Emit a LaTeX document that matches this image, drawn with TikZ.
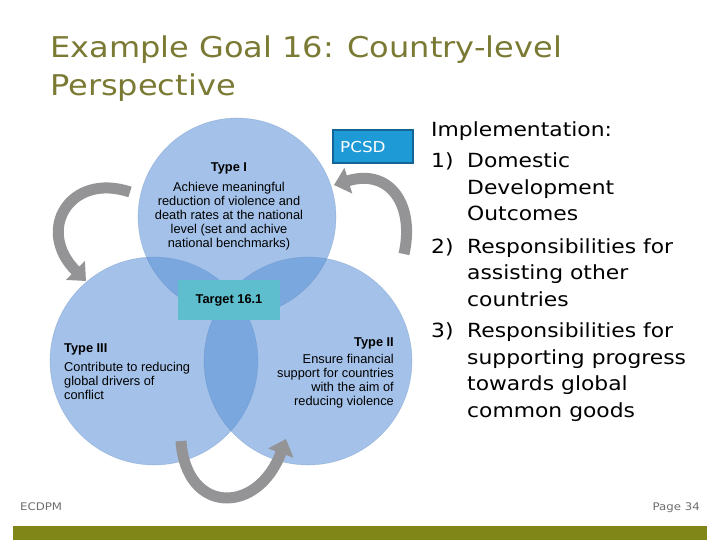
\documentclass[tikz,border=0pt]{standalone}
\usepackage{fontspec}
\setmainfont{DejaVu Sans}[FakeStretch=1.12]
\newfontfamily\arialf{Liberation Sans}
\usetikzlibrary{arrows.meta}
\definecolor{olive}{RGB}{122,122,52}
\definecolor{barolive}{RGB}{128,134,24}
\definecolor{circblue}{RGB}{90,145,215}
\definecolor{targetc}{RGB}{95,190,205}
\definecolor{pcsdc}{RGB}{30,155,215}
\definecolor{pcsdb}{RGB}{20,100,150}
\definecolor{arrgray}{RGB}{148,148,150}
\definecolor{footgray}{RGB}{110,110,110}
\tikzset{
  venn/.style={fill=circblue, fill opacity=0.55, draw=circblue!80!black, draw opacity=0.25, line width=0.6pt},
  txt/.style={inner sep=0pt, anchor=base west},
  ctxt/.style={inner sep=0pt, anchor=base, font=\arialf\fontsize{12.8}{14}\selectfont},
  ctitle/.style={ctxt, font=\arialf\bfseries\fontsize{12.8}{14}\selectfont},
  rtxt/.style={inner sep=0pt, anchor=base east, font=\arialf\fontsize{12.8}{14}\selectfont},
  ltxt/.style={inner sep=0pt, anchor=base west, font=\arialf\fontsize{12.8}{14}\selectfont},
  bodytxt/.style={txt, font=\fontsize{19.5}{24}\selectfont},
  curvarrow/.style={draw=arrgray, line width=11pt, -{Triangle[width=26pt,length=15pt]}},
}
\begin{document}
\begin{tikzpicture}[x=1pt,y=-1pt]
\useasboundingbox (0,0) rectangle (720,540);
\fill[white] (0,0) rectangle (720,540);

% title
\node[txt, text=olive, font=\fontsize{28.6}{34}\selectfont] (title1) at (50,58) {Example Goal 16: Country-level};
\node[txt, text=olive, font=\fontsize{28.6}{34}\selectfont] (title2) at (50,96) {Perspective};

% circles
\path[venn] (154,361) circle (104);
\path[venn] (308,361) circle (104);
\path[venn] (237,217) circle (99);
\node[inner sep=0] (c1) at (237,217) {};
\node[inner sep=0] (c3) at (154,361) {};
\node[inner sep=0] (c2) at (308,361) {};

% target box
\node[fill=targetc, minimum width=102pt, minimum height=40pt, inner sep=0pt,
      font=\arialf\bfseries\fontsize{12.8}{14}\selectfont] (target) at (229,300) {Target 16.1};

% PCSD box
\draw[fill=pcsdc, draw=pcsdb, line width=1.5pt] (333,130) rectangle (413,163);
\node[inner sep=0pt, anchor=base west, text=white, font=\fontsize{15}{17}\selectfont] (pcsd) at (340,153) {PCSD};

% Type I text
\node[ctitle] (t1h) at (229,172) {Type I};
\foreach \t/\yy in {Achieve meaningful/192, reduction of violence and/206, death rates at the national/219.5, level (set and achive/233.5, national benchmarks)/247.5}
  \node[ctxt] at (229,\yy) {\t};

% Type III text
\node[ltxt, font=\arialf\bfseries\fontsize{12.8}{14}\selectfont] (t3h) at (64,352) {Type III};
\foreach \t/\yy in {Contribute to reducing/371, global drivers of/385, conflict/399}
  \node[ltxt] at (64,\yy) {\t};

% Type II text
\node[rtxt, font=\arialf\bfseries\fontsize{12.8}{14}\selectfont] (t2h) at (394,346) {Type II};
\foreach \t/\yy in {Ensure financial/363, support for countries/377, with the aim of/391, reducing violence/405}
  \node[rtxt] at (394,\yy) {\t};

% curved arrows
\coordinate (a1s) at (130,192);
\coordinate (a1e) at (86,281);
\draw[curvarrow] (a1s) .. controls (70,172) and (35,230) .. (a1e);
\coordinate (a2s) at (404,254);
\coordinate (a2e) at (334,185);
\draw[curvarrow] (a2s) .. controls (415,205) and (390,168) .. (a2e);
\coordinate (a3s) at (181,441);
\coordinate (a3e) at (286,439);
\draw[curvarrow] (a3s) .. controls (186,515) and (258,515) .. (a3e);

% right text
\node[bodytxt] (impl) at (431,137) {Implementation:};
\node[bodytxt] (n1) at (431,168) {1)};
\node[bodytxt] (n2) at (431,253) {2)};
\node[bodytxt] (n3) at (431,337) {3)};
\foreach \t/\yy in {Domestic/168, Development/195, Outcomes/221, Responsibilities for/253, assisting other/279, countries/306, Responsibilities for/337, supporting progress/364, towards global/390, common goods/417}
  \node[bodytxt] at (467,\yy) {\t};

% footer
\node[txt, text=footgray, font=\fontsize{10.5}{12}\selectfont] (foot1) at (20,510) {ECDPM};
\node[inner sep=0pt, anchor=base east, text=footgray, font=\fontsize{10.5}{12}\selectfont] (foot2) at (700,510) {Page 34};
\fill[barolive] (13,526) rectangle (707,540);
\end{tikzpicture}
\end{document}
